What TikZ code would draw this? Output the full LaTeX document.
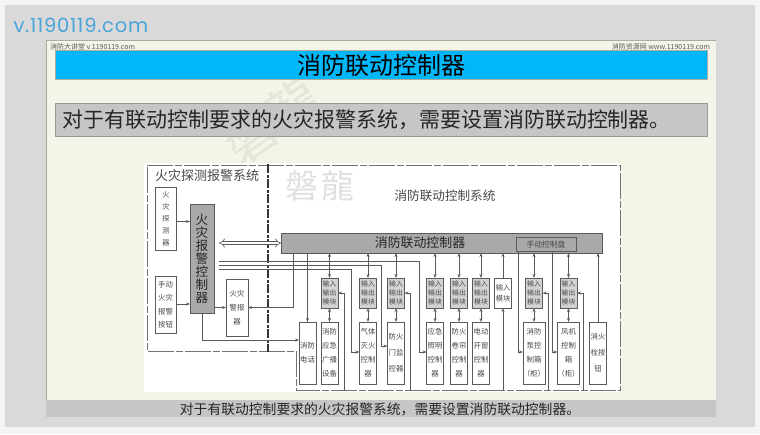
\documentclass[tikz,border=0pt]{standalone}
\usepackage{fontspec}
\setmainfont{Noto Sans CJK SC}
\newfontfamily\wmfont{Noto Sans CJK TC}
\newfontfamily\latfont[LetterSpace=4]{Poppins}
\usetikzlibrary{arrows.meta}
\definecolor{pagebg}{HTML}{F4F5F7}
\definecolor{outerbg}{HTML}{D9D9D9}
\definecolor{slidebg}{HTML}{F4F4E8}
\definecolor{slideedge}{HTML}{ABABA0}
\definecolor{barblue}{HTML}{00B7FB}
\definecolor{subgray}{HTML}{C6C6C6}
\definecolor{ctlgray}{HTML}{A9A9A9}
\definecolor{modgray}{HTML}{D2D2D0}
\definecolor{ink}{HTML}{5A5A5A}
\definecolor{txt}{HTML}{484848}
\definecolor{sitecol}{HTML}{4AA3D9}
\newcommand{\fs}[2]{\fontsize{#1}{#2}\selectfont}
\tikzset{
  x=1pt,y=-1pt,
  lbl/.style={inner sep=0pt,outer sep=0pt,text=txt},
  boxbase/.style={draw=ink,line width=.7pt,fill=white,inner sep=0pt,outer sep=0pt,align=center,text=txt},
  devbox/.style={boxbase,minimum width=17pt,minimum height=62pt,font=\fs{7.4}{14}},
  modbox/.style={boxbase,fill=modgray,minimum width=17pt,minimum height=30pt,font=\fs{6.8}{9.2}},
  wire/.style={draw=ink,line width=.7pt},
  arrw/.style={wire,-{Stealth[length=4pt,width=3pt]}},
  arrb/.style={wire,{Stealth[length=4pt,width=3pt]}-{Stealth[length=4pt,width=3pt]}},
  hollow/.style={draw=ink,line width=.6pt,double=white,double distance=2.6pt,{Implies}-{Implies}},
  fence/.style={draw=ink!85,line width=.7pt,dash pattern=on 26pt off 2pt on 7pt off 2pt},
}
\begin{document}
\begin{tikzpicture}
\useasboundingbox (0,0) rectangle (760,434);
% backdrop
\fill[pagebg] (0,0) rectangle (760,434);
\fill[outerbg] (5,5) rectangle (755,427);
\fill[slidebg] (46,40) rectangle (716,400);
\draw[slideedge,line width=1pt] (46,400) -- (46,40) -- (716,40);
\node[lbl,font=\wmfont\fs{52}{52},rotate=35,text=black!6!slidebg] (wmA) at (272,120) {磐龍};
\fill[subgray] (46,400) rectangle (716,417);
\node[lbl,font=\fs{13.8}{14},text=black!85] (foot) at (380,409.5) {对于有联动控制要求的火灾报警系统，需要设置消防联动控制器。};
% headers
\node[lbl,anchor=west,font=\latfont\fs{19.5}{20},text=sitecol] (site) at (13.5,25) {v.1190119.com};
\fill[barblue] (55,50) rectangle (707,79);
\draw[slideedge,line width=.6pt] (55,50) rectangle (707,79);
\node[lbl,font=\fs{24}{24},text=black] (title) at (381,65) {消防联动控制器};
\node[lbl,anchor=west,font=\fs{7}{8},text=black!65] (hl) at (50,47) {消防大讲堂 v.1190119.com};
\node[lbl,anchor=east,font=\fs{7}{8},text=black!65] (hr) at (710,47) {消防资源网 www.1190119.com};
\fill[subgray] (55,103) rectangle (707,136);
\draw[black!40,line width=.8pt] (55,103) rectangle (707,136);
\node[lbl,anchor=west,font=\fs{21}{21},text=black!85] (sub) at (62,120) {对于有联动控制要求的火灾报警系统，需要设置消防联动控制器。};
% diagram ground
\fill[white] (144,163) rectangle (620,392);
\node[lbl,font=\wmfont\fs{33}{33},text=black!12] (wm) at (320,186) {磐\hspace{3pt}龍};
% fences
\draw[fence] (147,165) -- (620,165) -- (620,390.5) -- (296,390.5) -- (296,351) -- (147,351) -- cycle;
\draw[draw=black!80,line width=1.5pt,dash pattern=on 9pt off 1.5pt on 3pt off 1.5pt] (268,164) -- (268,352);
\node[lbl,font=\fs{13}{13}] (t1) at (207,176) {火灾探测报警系统};
\node[lbl,font=\fs{12.6}{13}] (t2) at (445,196) {消防联动控制系统};
% left system
\node[boxbase,minimum width=21pt,minimum height=63pt,font=\fs{7.2}{12}] (det) at (166,218.5) {火\\灾\\探\\测\\器};
\node[boxbase,minimum width=21pt,minimum height=57pt,font=\fs{7.4}{13.5}] (man) at (165.5,304.5) {手动\\火灾\\报警\\按钮};
\node[boxbase,fill=ctlgray,minimum width=24pt,minimum height=109pt,font=\fs{12.6}{13},text=black!85] (fac) at (202,258.5) {火\\灾\\报\\警\\控\\制\\器};
\node[boxbase,minimum width=22pt,minimum height=57pt,font=\fs{7.4}{14}] (ala) at (237,307.5) {火灾\\警报\\器};
% linkage controller
\node[boxbase,fill=ctlgray,minimum width=321pt,minimum height=20pt] (ctl) at (441.5,243) {};
\node[lbl,font=\fs{12.9}{13},text=black!85] (ctltxt) at (420,243) {消防联动控制器};
\node[boxbase,fill=ctlgray,minimum width=60pt,minimum height=14pt,font=\fs{7.8}{8}] (pan) at (546,244) {手动控制盘};
% modules
\newcommand{\iomod}{输入\\输出\\模块}
\node[modbox] (m1) at (329.5,293) {\iomod};
\node[modbox] (m2) at (368,293) {\iomod};
\node[modbox] (m3) at (396,293) {\iomod};
\node[modbox] (m4) at (435,293) {\iomod};
\node[modbox] (m5) at (459,293) {\iomod};
\node[modbox] (m6) at (481,293) {\iomod};
\node[modbox,fill=white,font=\fs{7.2}{11}] (m7) at (503,293) {输入\\模块};
\node[modbox] (m8) at (534,293) {\iomod};
\node[modbox] (m9) at (568.5,293) {\iomod};
% devices
\node[devbox] (d0) at (307.5,353) {消防\\电话};
\node[devbox] (d1) at (329.5,353) {消防\\应急\\广播\\设备};
\node[devbox] (d2) at (368,353) {气体\\灭火\\控制\\器};
\node[devbox,font=\fs{7.4}{16}] (d3) at (396,353) {防火\\门监\\控器};
\node[devbox] (d4) at (435,353) {应急\\照明\\控制\\器};
\node[devbox] (d5) at (459,353) {防火\\卷帘\\控制\\器};
\node[devbox] (d6) at (481,353) {电动\\开窗\\控制\\器};
\node[devbox] (d8) at (534,353) {消防\\泵控\\制箱\\（柜）};
\node[devbox] (d9) at (568.5,353) {风机\\控制\\箱\\（柜）};
\node[devbox,font=\fs{7.4}{16}] (d10) at (598,353) {消火\\栓按\\钮};
% left connectors
\draw[arrw] (det.east |- 0,221.5) -- (fac.west |- 0,221.5);
\draw[arrw] (man.east |- 0,304) -- (fac.west |- 0,304);
\draw[arrw] (fac.east |- ala.west) -- (ala.west);
\coordinate (ta) at (293.5,280);
\draw[arrw] (ctl.south -| ta) -- (293.5,307.5) -- (ala.east);
\coordinate (fb) at (202,340);
\draw[arrw] (fac.south) -- (fb) -- (fb -| d0.west);
\draw[hollow] (219,243) -- (ctl.west);
% phone
\draw[arrw] (ctl.south -| d0) -- (d0.north);
% bus lines
\coordinate (b1) at (219,261.5);
\coordinate (b2) at (219,265.5);
\coordinate (b3) at (219,269);
\coordinate (c1) at (351.5,300);
\coordinate (c2) at (381.5,300);
\coordinate (c3) at (419.5,300);
\draw[wire] (b1) -| (c3);
\draw[wire] (b2) -| (c2);
\draw[wire] (b3) -| (c1);
\draw[arrw] (c1) |- ([yshift=1pt]d2.west);
\draw[arrw] (c2) |- ([yshift=7pt]d3.west);
\draw[arrw] (c3) |- ([yshift=1pt]d4.west);
% module links
\foreach \k in {1,2,3,4,5,6,8,9}{
  \draw[arrb] (ctl.south -| m\k) -- (m\k.north);
  \draw[arrb] (m\k.south) -- (d\k.north);
}
\draw[arrw] (m7.north) -- (ctl.south -| m7);
\coordinate (e7) at (503,390.5);
\draw[arrw] (e7) -- (m7.south);
\draw[arrw] (d10.north) -- (ctl.south -| d10);
% feedback
\coordinate (f1) at (344,390.5);
\coordinate (f3) at (410,390.5);
\coordinate (f8) at (548,390.5);
\coordinate (f9) at (583,390.5);
\draw[arrw] (f1) |- (m1.east);
\draw[arrw] (f3) |- (m3.east);
\draw[arrw] (f8) |- (m8.east);
\draw[arrw] (f9) |- (m9.east);
% panel lines
\coordinate (p1) at (518,300);
\coordinate (p2) at (552,300);
\draw[wire] (pan.south -| p1) -- (p1);
\draw[wire] (pan.south -| p2) -- (p2);
\draw[arrw] (p1) |- ([yshift=1pt]d8.west);
\draw[arrw] (p2) |- ([yshift=1pt]d9.west);
\end{tikzpicture}
\end{document}
